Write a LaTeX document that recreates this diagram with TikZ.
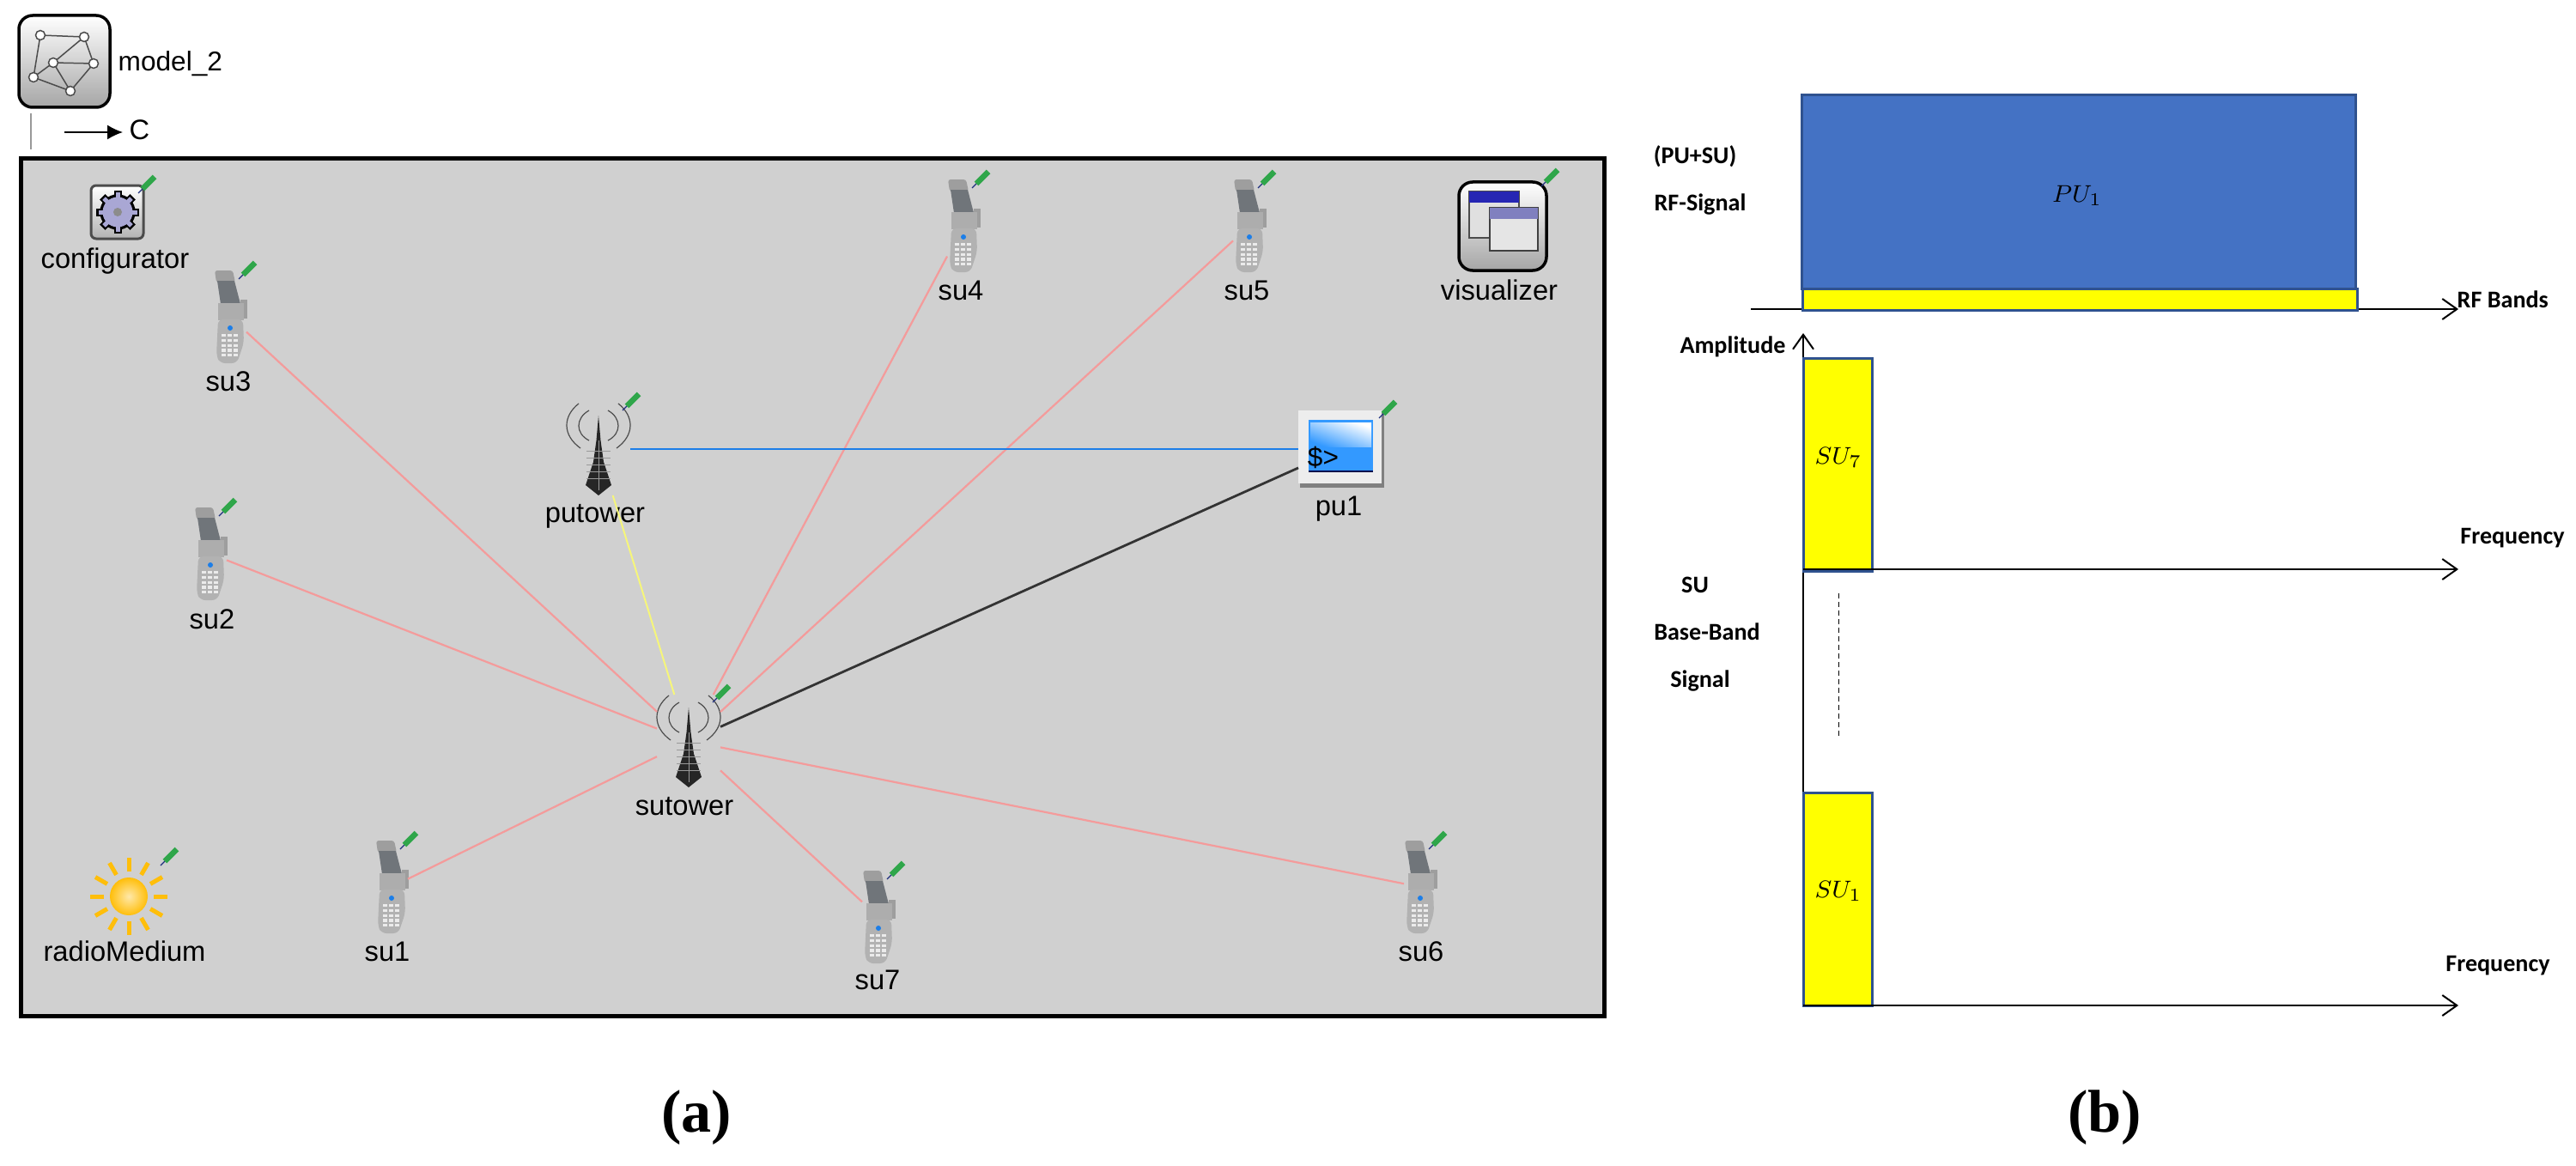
\documentclass[tikz,border=0pt]{standalone}
\usepackage{fontspec}
\setmainfont{Liberation Sans}
\newfontfamily\plotfont{Carlito}
\newfontfamily\capfont{Liberation Serif}
\usetikzlibrary{arrows.meta,calc}
\definecolor{panelgray}{HTML}{D0D0D0}
\definecolor{linkpink}{HTML}{F49B9B}
\definecolor{linkblue}{HTML}{1C7EE8}
\definecolor{linkyellow}{HTML}{F6F67A}
\definecolor{linkblack}{HTML}{333333}
\definecolor{pinblue}{HTML}{1F2F7F}
\definecolor{pingreen}{HTML}{2FA64A}
\definecolor{bandblue}{HTML}{4472C4}
\definecolor{bandedge}{HTML}{2F528F}
\definecolor{bandyellow}{RGB}{255,255,0}
\definecolor{sunorange}{HTML}{FFBE0A}
\definecolor{screenblue}{HTML}{3399FF}
\definecolor{gearpurple}{HTML}{A9A7D4}
\definecolor{liddark}{HTML}{70757A}
\tikzset{
  hitbox/.style={inner sep=0pt,outer sep=0pt},
  lbl/.style={anchor=base,inner sep=0pt,font=\fontsize{9.3}{11}\selectfont},
  plotlbl/.style={inner sep=0pt,font=\plotfont\bfseries\fontsize{8}{10}\selectfont},
  bandlbl/.style={inner sep=0pt,font=\fontsize{8.5}{10}\selectfont},
  bandbox/.style={draw=bandedge,line width=0.03cm,inner sep=0pt,outer sep=0pt},
  caplbl/.style={inner sep=0pt,font=\capfont\bfseries\fontsize{20}{24}\selectfont},
  plotaxis/.style={line width=0.02cm,-{Straight Barb[length=0.17cm,width=0.24cm]}},
  pin/.pic={
    \draw[pinblue,line width=0.012cm] (0,0) -- (0.06,-0.06);
    \draw[pingreen,line width=0.065cm] (0.05,-0.05) -- (0.19,-0.19);},
  phone/.pic={
    \fill[black!38,rounded corners=0.03cm] (-0.18,-0.54) -- (0.03,-0.54) -- (0.06,-0.4) -- (-0.16,-0.4) -- cycle;
    \fill[liddark] (-0.15,-0.42) -- (0.05,-0.42) -- (0.12,-0.15) -- (-0.11,-0.15) -- cycle;
    \fill[black!38] (0.12,-0.2) rectangle (0.2,0.02);
    \fill[black!32] (-0.14,-0.16) rectangle (0.16,0.04);
    \fill[black!30,rounded corners=0.06cm] (-0.14,0.03) -- (0.15,0.03) -- (0.16,0.3) -- (0.08,0.54) -- (-0.12,0.54) -- (-0.16,0.45) -- cycle;
    \foreach \i in {0,1,2}{
      \foreach \j in {0,...,4}{
        \fill[black!8] ($(-0.1,0.2)+(\i*0.07,\j*0.058)$) rectangle ++(0.05,0.032);}}
    \fill[linkblue] (0,0.13) circle (0.03);},
  tower/.pic={
    \foreach \s in {-1,1}{
      \draw[black!70,line width=0.012cm] (\s*0.23,-0.53) .. controls (\s*0.42,-0.38) and (\s*0.42,-0.16) .. (\s*0.21,-0.01);
      \draw[black!70,line width=0.012cm] (\s*0.11,-0.45) .. controls (\s*0.27,-0.36) and (\s*0.27,-0.18) .. (\s*0.11,-0.1);}
    \fill[black!85] (0,-0.39) -- (0.025,-0.1) -- (0.06,0.15) -- (0.15,0.42) -- (0,0.54) -- (-0.15,0.42) -- (-0.06,0.15) -- (-0.025,-0.1) -- cycle;
    \foreach \yy in {0.02,0.1,...,0.42}{
      \draw[black!40,line width=0.008cm] (-0.14,\yy) -- (0.14,\yy);}
    \draw[black!40,line width=0.008cm] (0,-0.1) -- (0,0.48);},
}
\begin{document}
\begin{tikzpicture}[x=1cm,y=-1cm,>=Stealth]
\useasboundingbox (0,0) rectangle (30,13.57);
% ---------- (a) network header ----------
\node[hitbox,minimum width=1.06cm,minimum height=1.07cm] (modelicon) at (0.75,0.715) {};
\shade[top color=white,bottom color=black!35,draw=black,line width=0.035cm,rounded corners=0.16cm] (0.22,0.18) rectangle (1.28,1.25);
\coordinate (na) at (0.47,0.41);
\coordinate (nb) at (0.98,0.43);
\coordinate (nc) at (0.62,0.73);
\coordinate (nd) at (1.09,0.74);
\coordinate (ne) at (0.39,0.9);
\coordinate (nf) at (0.82,1.06);
\draw[black!70,line width=0.015cm] (na) -- (nb) -- (nd) -- (nf) -- (ne) -- (na);
\draw[black!70,line width=0.015cm] (nb) -- (nc) -- (nd);
\draw[black!70,line width=0.015cm] (ne) -- (nc) -- (nf);
\foreach \p in {na,nb,nc,nd,ne,nf}{
  \draw[black!70,fill=white,line width=0.015cm] (\p) circle (0.055);}
\node[lbl,anchor=base west,font=\fontsize{9}{11}\selectfont] (modelname) at (1.37,0.82) {model\_2};
\coordinate (tickA) at (0.36,1.32);
\coordinate (tickB) at (0.36,1.74);
\draw[black!40,line width=0.012cm] (tickA) -- (tickB);
\coordinate (chanA) at (0.75,1.54);
\coordinate (chanB) at (1.43,1.54);
\draw[-{Latex[length=0.18cm,width=0.17cm]},line width=0.015cm] (chanA) -- (chanB);
\node[lbl,anchor=base west] (channame) at (1.5,1.63) {C};
% ---------- (a) panel ----------
\draw[fill=panelgray,line width=0.05cm] (0.245,1.845) rectangle (18.68,11.83);
% phones
\foreach \name/\xx/\yy/\lx/\ly in {su1/4.56/10.33/4.51/11.19,su2/2.45/6.45/2.47/7.32,su3/2.68/3.69/2.66/4.55,
    su4/11.22/2.63/11.19/3.49,su5/14.55/2.63/14.52/3.49,su6/16.54/10.33/16.55/11.19,su7/10.23/10.68/10.22/11.52}{
  \node[hitbox,minimum width=0.38cm,minimum height=1.08cm] (\name) at (\xx,\yy) {};
  \pic at (\xx,\yy) {phone};
  \pic at ($(\xx,\yy)+(0.1,-0.44)$) {pin};
  \node[lbl] (\name lab) at (\lx,\ly) {\name};}
% towers
\foreach \name/\xx/\yy/\lx/\ly in {putower/6.97/5.23/6.93/6.08,sutower/8.02/8.63/7.97/9.49}{
  \node[hitbox,minimum width=0.74cm,minimum height=1.08cm] (\name) at (\xx,\yy) {};
  \pic at (\xx,\yy) {tower};
  \pic at ($(\xx,\yy)+(0.28,-0.45)$) {pin};
  \node[lbl] (\name lab) at (\lx,\ly) {\name};}
% pu1
\node[hitbox,minimum width=0.98cm,minimum height=0.87cm] (pu1) at (15.61,5.23) {};
\fill[black!50] (15.14,4.8) rectangle (16.12,5.68);
\fill[black!7] (15.12,4.78) rectangle (16.09,5.63);
\fill[screenblue] (15.24,4.89) rectangle (15.99,5.49);
\shade[top color=white,bottom color=screenblue,shading angle=-20] (15.26,4.92) rectangle (15.97,5.2);
\draw[black!70!blue,line width=0.015cm] (15.24,5.49) -- (15.99,5.49);
\node[inner sep=0pt,font=\fontsize{9}{10}\selectfont] (prompt) at (15.41,5.33) {\$>};
\pic at (16.06,4.87) {pin};
\node[lbl] (pu1lab) at (15.59,6.0) {pu1};
% configurator
\node[hitbox,minimum width=0.61cm,minimum height=0.62cm] (configurator) at (1.365,2.47) {};
\shade[top color=white,bottom color=black!30,draw=black!70,line width=0.03cm,rounded corners=0.06cm] (1.06,2.16) rectangle (1.67,2.78);
\foreach \aa in {0,45,...,315}{
  \draw[black,line width=0.09cm] (1.37,2.47) -- ++(\aa:0.25);}
\draw[black,fill=black] (1.37,2.47) circle (0.2);
\foreach \aa in {0,45,...,315}{
  \draw[gearpurple,line width=0.05cm] (1.37,2.47) -- ++(\aa:0.225);}
\fill[gearpurple] (1.37,2.47) circle (0.175);
\fill[black!45] (1.37,2.47) circle (0.05);
\pic at (1.61,2.25) {pin};
\node[lbl] (configuratorlab) at (1.34,3.12) {configurator};
% visualizer
\node[hitbox,minimum width=1.02cm,minimum height=1.03cm] (visualizer) at (17.5,2.635) {};
\shade[top color=white,bottom color=black!35,draw=black,line width=0.035cm,rounded corners=0.16cm] (16.99,2.12) rectangle (18.01,3.15);
\draw[black!70,fill=black!12,line width=0.025cm] (17.11,2.23) rectangle (17.69,2.77);
\fill[blue!65!black!85] (17.11,2.23) rectangle (17.69,2.36);
\draw[black!75,fill=black!10,line width=0.025cm] (17.35,2.42) rectangle (17.91,2.92);
\fill[blue!50!black!50] (17.35,2.42) rectangle (17.91,2.55);
\pic at (17.95,2.17) {pin};
\node[lbl] (visualizerlab) at (17.46,3.49) {visualizer};
% radioMedium
\node[hitbox,minimum width=0.9cm,minimum height=0.9cm] (radioMedium) at (1.5,10.44) {};
\foreach \aa in {0,30,...,330}{
  \draw[sunorange,line width=0.05cm] (1.5,10.44) ++(\aa:0.29) -- ++(\aa:0.16);}
\shade[inner color=sunorange!35!white,outer color=sunorange] (1.5,10.44) circle (0.22);
\pic at (1.87,10.08) {pin};
\node[lbl] (radioMediumlab) at (1.45,11.19) {radioMedium};
% links
\foreach \name in {su1,su2,su3,su4,su5,su6,su7}{
  \draw[linkpink,line width=0.022cm] (\name) -- (sutower);}
\draw[linkyellow,line width=0.02cm] (putower) -- (sutower);
\draw[linkblue,line width=0.028cm] (putower) -- (pu1);
\draw[linkblack,line width=0.028cm] (sutower) -- (pu1);
\node[caplbl] (capa) at (8.11,13.02) {(a)};
% ---------- (b) spectrum ----------
\coordinate (rfA) at (20.39,3.6);
\coordinate (rfB) at (28.63,3.6);
\draw[plotaxis] (rfA) -- (rfB);
\node[bandbox,fill=bandblue,minimum width=6.45cm,minimum height=2.25cm] (puband) at (24.21,2.235) {};
\node[bandbox,fill=bandyellow,minimum width=6.46cm,minimum height=0.25cm] (mixband) at (24.22,3.485) {};
\node[bandlbl] (pulab) at (24.19,2.28) {$PU_1$};
\coordinate (ampA) at (21.0,11.71);
\coordinate (ampB) at (21.0,3.88);
\draw[plotaxis] (ampA) -- (ampB);
\coordinate (f7A) at (21.0,6.63);
\coordinate (f7B) at (28.63,6.63);
\coordinate (f1A) at (21.0,11.71);
\coordinate (f1B) at (28.63,11.71);
\node[bandbox,fill=bandyellow,minimum width=0.8cm,minimum height=2.48cm] (su7band) at (21.4,5.41) {};
\node[bandbox,fill=bandyellow,minimum width=0.8cm,minimum height=2.48cm] (su1band) at (21.4,10.47) {};
\draw[plotaxis] (f7A) -- (f7B);
\draw[plotaxis] (f1A) -- (f1B);
\node[bandlbl] (su7lab) at (21.41,5.33) {$SU_7$};
\node[bandlbl] (su1lab) at (21.41,10.38) {$SU_1$};
\coordinate (gapA) at (21.41,6.91);
\coordinate (gapB) at (21.41,8.58);
\draw[dashed,line width=0.01cm,dash pattern=on 0.06cm off 0.04cm] (gapA) -- (gapB);
\node[plotlbl] (mixtop) at (19.74,1.82) {(PU+SU)};
\node[plotlbl] (mixbot) at (19.8,2.38) {RF-Signal};
\node[plotlbl,anchor=west] (rflab) at (28.61,3.49) {RF Bands};
\node[plotlbl] (amplab) at (20.18,4.04) {Amplitude};
\node[plotlbl] (f7lab) at (29.26,6.27) {Frequency};
\node[plotlbl] (f1lab) at (29.09,11.25) {Frequency};
\node[plotlbl] (sulab) at (19.74,6.81) {SU};
\node[plotlbl] (baselab) at (19.88,7.36) {Base-Band};
\node[plotlbl] (siglab) at (19.8,7.93) {Signal};
\node[caplbl] (capb) at (24.51,13.02) {(b)};
\end{tikzpicture}
\end{document}
